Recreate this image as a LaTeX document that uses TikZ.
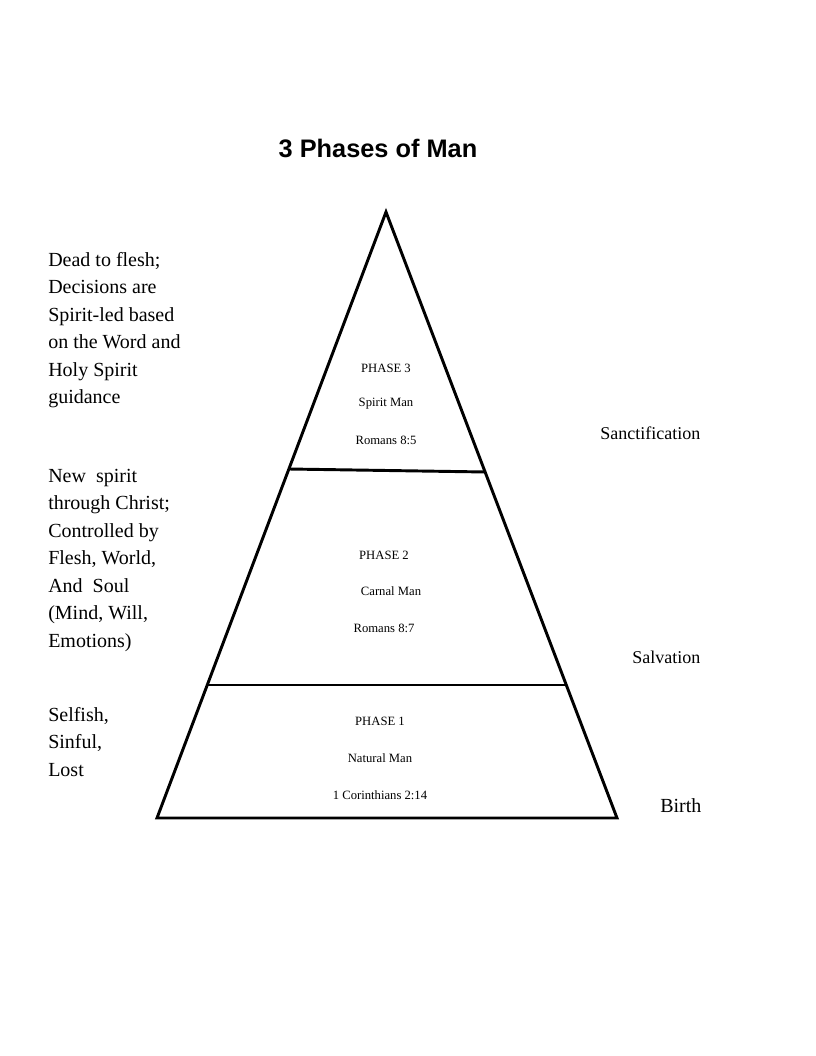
\documentclass[tikz,border=0pt]{standalone}
\usepackage{fontspec}
\setmainfont{Liberation Serif}
\newfontfamily\arialf{Liberation Sans}
\begin{document}
\begin{tikzpicture}[x=0.75pt,y=-0.75pt,
  side/.style={anchor=north west,align=left,font=\fontsize{15}{20.6}\selectfont,inner sep=0pt},
  lab/.style={anchor=west,font=\fontsize{13.5}{16}\selectfont,inner sep=0pt},
  inner/.style={font=\fontsize{9.5}{11}\selectfont,inner sep=0pt},
  edge/.style={line width=2.2pt}]
\useasboundingbox (0,0) rectangle (816,1056);
\coordinate (A) at (386,212);
\coordinate (L) at (157,818);
\coordinate (R) at (617,818);
\coordinate (a1) at (289,469); \coordinate (b1) at (486,472);
\coordinate (a2) at (208,685); \coordinate (b2) at (566,685);
\draw[edge,line join=miter] (A) -- (L) -- (R) -- cycle;
\draw[edge] (a1) -- (b1);
\draw[edge] (a2) -- (b2);
\node[font=\arialf\bfseries\fontsize{19}{22}\selectfont] (title) at (378,148) {3 Phases of Man};
\node[side] (t3) at (48,252) {Dead to flesh;\\Decisions are\\Spirit-led based\\on the Word and\\Holy Spirit\\guidance};
\node[side] (t2) at (48,469) {New\ \ spirit\\through Christ;\\Controlled by\\Flesh, World,\\And\ \ Soul\\(Mind, Will,\\Emotions)};
\node[side] (t1) at (48,707) {Selfish,\\Sinful,\\Lost};
\node[inner] (p3a) at (386,368) {PHASE 3};
\node[inner] (p3b) at (386,404) {Spirit Man};
\node[inner] (p3c) at (386,440) {Romans 8:5};
\node[inner] (p2a) at (384,555) {PHASE 2};
\node[inner] (p2b) at (391,591) {Carnal Man};
\node[inner] (p2c) at (384,628) {Romans 8:7};
\node[inner] (p1a) at (380,721) {PHASE 1};
\node[inner] (p1b) at (380,758) {Natural Man};
\node[inner] (p1c) at (380,795) {1 Corinthians 2:14};
\node[lab] (s) at (600,433) {Sanctification};
\node[lab] (v) at (632,657) {Salvation};
\node[lab,font=\fontsize{15}{18}\selectfont] (b) at (660,806) {Birth};
\end{tikzpicture}
\end{document}
